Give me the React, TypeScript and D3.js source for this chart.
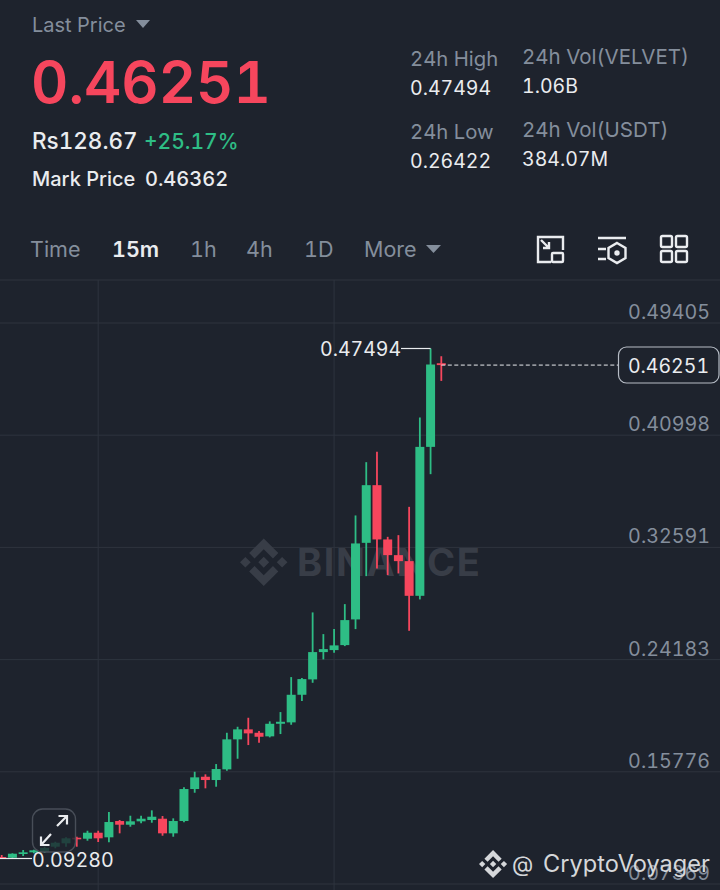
import { useEffect, useRef } from 'react';
import * as d3 from 'd3';

const opens = [0.09391, 0.09339, 0.09616, 0.09743, 0.09766, 0.10163, 0.10417, 0.10837, 0.10762, 0.11211, 0.10867, 0.12088, 0.11811, 0.12065, 0.12163, 0.1226, 0.11166, 0.12088, 0.14485, 0.15406, 0.15159, 0.1596, 0.18207, 0.18956, 0.18701, 0.18432, 0.19375, 0.1948, 0.21548, 0.22701, 0.24746, 0.24896, 0.2527, 0.27195, 0.32932, 0.37254, 0.33187, 0.32011, 0.31562, 0.28963, 0.40123, 0.4639];
const highs = [0.09541, 0.09668, 0.09916, 0.09938, 0.10163, 0.10537, 0.10867, 0.10912, 0.11361, 0.11361, 0.12762, 0.12163, 0.12485, 0.12485, 0.12889, 0.12462, 0.1229, 0.14612, 0.1578, 0.15586, 0.16357, 0.18701, 0.19151, 0.19825, 0.18829, 0.19555, 0.20252, 0.22873, 0.22798, 0.27719, 0.26094, 0.26469, 0.28341, 0.34985, 0.38977, 0.39749, 0.33382, 0.33509, 0.35629, 0.42325, 0.47494, 0.46916];
const lows = [0.0928, 0.09294, 0.09466, 0.09668, 0.09691, 0.10043, 0.10163, 0.10163, 0.10612, 0.10515, 0.10492, 0.11166, 0.11661, 0.11915, 0.1196, 0.10987, 0.10912, 0.1199, 0.14207, 0.14537, 0.14657, 0.15855, 0.16754, 0.1778, 0.17952, 0.18357, 0.18604, 0.19301, 0.21076, 0.22446, 0.24199, 0.24693, 0.25195, 0.26469, 0.30438, 0.31015, 0.30513, 0.3064, 0.26341, 0.28693, 0.38078, 0.45066];
const closes = [0.0928, 0.09639, 0.09743, 0.09893, 0.10065, 0.10462, 0.10792, 0.10717, 0.11211, 0.10792, 0.12013, 0.11811, 0.12065, 0.1226, 0.1241, 0.11166, 0.12088, 0.14485, 0.15361, 0.15159, 0.15983, 0.18207, 0.18956, 0.18656, 0.18402, 0.19375, 0.19525, 0.21548, 0.22724, 0.24746, 0.24971, 0.25248, 0.27143, 0.32887, 0.37254, 0.33187, 0.32011, 0.31562, 0.28963, 0.40123, 0.46295, 0.46251];

const priceTicks = [0.49405, 0.40998, 0.32591, 0.24183, 0.15776, 0.07369];
const gridCandles = [9, 31];
const lastPrice = 0.46251;
const highPrice = 0.47494;
const lowPrice = 0.0928;
const tabs = ['Time', '15m', '1h', '4h', '1D', 'More'];
const tabX = [30, 112, 190, 246, 304, 364];

const BG = '#1e232d';
const GREEN = '#2ebd85';
const RED = '#f6465d';
const GRAY = '#848e9c';
const LIGHT = '#eaecef';
const GRID = '#2e343e';
const FONT = 'Inter, Roboto, sans-serif';

const LOGO =
  'M38.73 53.2l24.59-24.58 24.6 24.6 14.3-14.31L63.32 0 24.42 38.9l14.31 14.3zM0 63.31l14.3-14.31 14.31 14.31-14.31 14.3zM38.73 73.41l24.59 24.59 24.6-24.6 14.31 14.29-38.9 38.91-38.91-38.88v-.03l14.31-14.28zM98 63.31l14.3-14.31 14.31 14.3-14.31 14.32zM77.83 63.3L63.32 48.78 52.59 59.51l-1.24 1.23-2.54 2.54 14.51 14.5 14.51-14.47z';

export default function App() {
  const svgRef = useRef<SVGSVGElement>(null);

  useEffect(() => {
    if (!svgRef.current) return;
    const svg = d3.select(svgRef.current);
    svg.selectAll('*').remove();

    const x = d3.scaleLinear().domain([0, opens.length - 1]).range([1.7, 441.3]);
    const y = d3.scaleLinear().domain([0.07369, 0.49405]).range([884, 323]);

    const label = (
      tx: number,
      ty: number,
      str: string,
      size: number,
      fill: string,
      weight = 400,
      anchor = 'start',
    ) =>
      svg
        .append('text')
        .attr('x', tx)
        .attr('y', ty)
        .attr('font-size', size)
        .attr('font-weight', weight)
        .attr('text-anchor', anchor)
        .attr('fill', fill)
        .text(str);

    svg.attr('font-family', FONT).style('font-variant-numeric', 'tabular-nums');
    svg.append('rect').attr('width', 720).attr('height', 890).attr('fill', BG);

    // header
    label(32, 32, 'Last Price', 20, GRAY);
    svg.append('path').attr('d', 'M136 20h14l-7 8z').attr('fill', GRAY);
    label(31, 103, '0.46251', 57.8, RED, 600);
    label(32, 149, 'Rs128.67', 22.5, LIGHT, 500);
    label(144, 149, '+25.17%', 21, GREEN, 500);
    label(32, 186, 'Mark Price', 20, LIGHT, 500);
    label(145, 186, '0.46362', 20, LIGHT, 500);

    label(410, 66, '24h High', 20.3, GRAY);
    label(410, 95, '0.47494', 19.5, LIGHT);
    label(410, 139, '24h Low', 20.3, GRAY);
    label(410, 168, '0.26422', 19.5, LIGHT);
    label(522, 64, '24h Vol(VELVET)', 20.5, GRAY);
    label(522, 93, '1.06B', 19.5, LIGHT);
    label(522, 137, '24h Vol(USDT)', 20.5, GRAY);
    label(522, 166, '384.07M', 19.5, LIGHT);

    // interval tabs
    tabs.forEach((t, i) => {
      const active = t === '15m';
      label(tabX[i], 257, t, 21.5, active ? LIGHT : GRAY, active ? 600 : 400);
    });
    svg.append('path').attr('d', 'M426 245h15l-7.5 8z').attr('fill', GRAY);

    const icons = svg
      .append('g')
      .attr('fill', 'none')
      .attr('stroke', LIGHT)
      .attr('stroke-width', 2.4);
    icons.append('path').attr('d', 'M551 262h-13v-25h25v13');
    icons.append('rect').attr('x', 552).attr('y', 253).attr('width', 11).attr('height', 9).attr('rx', 1);
    icons.append('path').attr('d', 'M541 240l8 8M549 242v6h-6');
    icons.append('path').attr('d', 'M598 238h28M598 249h8M598 259h8');
    icons.append('path').attr('d', 'M617 243l8.5 5v10l-8.5 5-8.5-5v-10z');
    icons.append('circle').attr('cx', 617).attr('cy', 253).attr('r', 1.5).attr('fill', LIGHT);
    [[661, 236], [676, 236], [661, 251], [676, 251]].forEach(([ix, iy]) => {
      icons.append('rect').attr('x', ix).attr('y', iy).attr('width', 11).attr('height', 11).attr('rx', 1.5);
    });

    svg.append('line').attr('x1', 0).attr('x2', 720).attr('y1', 280).attr('y2', 280).attr('stroke', GRID);

    // grid
    const grid = svg.append('g').attr('stroke', GRID).attr('stroke-width', 1);
    priceTicks.forEach((t) => {
      grid.append('line').attr('x1', 0).attr('x2', 720).attr('y1', y(t)).attr('y2', y(t));
    });
    gridCandles.forEach((c) => {
      grid.append('line').attr('x1', x(c)).attr('x2', x(c)).attr('y1', 280).attr('y2', 890);
    });

    // watermark
    svg
      .append('path')
      .attr('d', LOGO)
      .attr('transform', 'translate(240,538.5) scale(0.375)')
      .attr('fill', '#383d47');
    label(297, 576, 'BINANCE', 38, '#383d47', 700).attr('letter-spacing', 1.6);

    // price labels
    priceTicks.forEach((t) => {
      label(710, y(t) - 4, t.toFixed(5), 19.7, GRAY, 400, 'end');
    });

    // candles
    const candles = svg.append('g');
    opens.forEach((open, i) => {
      const color = closes[i] >= open ? GREEN : RED;
      candles
        .append('line')
        .attr('x1', x(i))
        .attr('x2', x(i))
        .attr('y1', y(highs[i]))
        .attr('y2', y(lows[i]))
        .attr('stroke', color)
        .attr('stroke-width', 1.8);
      candles
        .append('rect')
        .attr('x', x(i) - 4.5)
        .attr('width', 9)
        .attr('y', y(Math.max(open, closes[i])))
        .attr('height', Math.max(1.6, Math.abs(y(open) - y(closes[i]))))
        .attr('fill', color);
    });

    // last price line and tag
    svg
      .append('line')
      .attr('x1', x(41))
      .attr('x2', 618)
      .attr('y1', y(lastPrice))
      .attr('y2', y(lastPrice))
      .attr('stroke', LIGHT)
      .attr('stroke-width', 1)
      .attr('stroke-dasharray', '4 2.5');
    svg
      .append('rect')
      .attr('x', 618.5)
      .attr('y', 347)
      .attr('width', 100.5)
      .attr('height', 36)
      .attr('rx', 8)
      .attr('fill', BG)
      .attr('stroke', '#b7bdc6')
      .attr('stroke-width', 1.2);
    label(668.5, 373, lastPrice.toFixed(5), 19.5, LIGHT, 400, 'middle');

    // high / low annotations
    svg
      .append('path')
      .attr('d', `M401 ${y(highPrice)}H${x(40)}`)
      .attr('stroke', LIGHT)
      .attr('stroke-width', 1.2);
    label(320, 356, highPrice.toFixed(5), 19.5, LIGHT);

    // expand button
    svg
      .append('rect')
      .attr('x', 32.5)
      .attr('y', 809)
      .attr('width', 43)
      .attr('height', 43)
      .attr('rx', 10)
      .attr('fill', BG)
      .attr('fill-opacity', 0.8)
      .attr('stroke', '#484e58')
      .attr('stroke-width', 1.4);
    svg
      .append('path')
      .attr('d', 'M57 826l10-10M58.5 816h8.5v8.5M51 834l-10 11M41 836.5v8.5h8.5')
      .attr('fill', 'none')
      .attr('stroke', LIGHT)
      .attr('stroke-width', 2.2);

    svg
      .append('path')
      .attr('d', `M0 ${y(lowPrice)}H32`)
      .attr('stroke', LIGHT)
      .attr('stroke-width', 1.2);
    label(32, 867, lowPrice.toFixed(5), 19.7, LIGHT);

    // source credit
    svg
      .append('path')
      .attr('d', LOGO)
      .attr('transform', 'translate(479,850) scale(0.222)')
      .attr('fill', '#d5d7da');
    label(512, 872, '@', 22, '#d5d7da');
    label(543, 872, 'CryptoVoyager', 23.6, '#d5d7da');
  }, []);

  return (
    <svg
      ref={svgRef}
      width={720}
      height={890}
      style={{ position: 'absolute', left: 0, top: 0 }}
    ></svg>
  );
}
